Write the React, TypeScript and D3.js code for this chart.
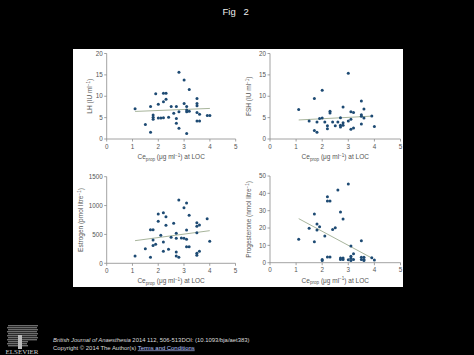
import React from "react";
import * as d3 from "d3";

const lhX = [1.1,1.5,1.7,1.7,1.8,1.8,1.8,1.9,2.0,2.0,2.1,2.2,2.2,2.3,2.2,2.3,2.4,2.5,2.6,2.7,2.7,2.7,2.8,2.8,2.8,3.0,3.0,3.1,3.1,3.1,3.2,3.1,3.2,3.5,3.5,3.5,3.5,3.6,3.5,3.6,3.9,4.0];
const lhY = [7.1,3.4,7.6,1.6,5.6,5.1,4.6,10.6,8.1,4.9,4.9,5.0,10.7,10.7,8.7,9.3,5.1,7.6,6.0,7.6,4.8,3.7,15.6,6.4,2.5,13.8,8.3,7.6,6.8,6.4,6.5,1.3,11.6,9.5,8.3,7.8,6.2,5.8,4.2,4.2,5.5,5.5];
const lhTrend = [[1.1, 6.45], [4.0, 7.15]];

const fshX = [1.1,1.5,1.7,1.7,1.8,1.8,1.9,2.0,2.0,2.1,2.2,2.2,2.3,2.3,2.4,2.5,2.6,2.7,2.7,2.7,2.8,2.8,2.8,3.0,3.0,3.1,3.1,3.2,3.1,3.2,3.5,3.5,3.5,3.6,3.6,3.5,3.9,4.0];
const fshY = [6.9,4.2,9.5,2.0,4.0,1.6,4.8,4.9,11.4,4.0,3.1,2.4,6.5,6.1,4.0,3.1,4.0,5.0,3.2,2.8,7.5,3.8,3.2,15.4,4.2,6.4,2.3,6.2,4.6,2.6,8.9,5.7,5.3,7.0,4.9,3.5,5.4,2.9];
const fshTrend = [[1.1, 4.45], [3.9, 5.35]];

const esX = [1.1,1.5,1.7,1.7,1.8,1.8,1.8,1.9,2.0,2.0,2.1,2.2,2.2,2.2,2.3,2.3,2.4,2.5,2.6,2.7,2.7,2.7,2.7,2.8,2.8,2.9,3.0,3.1,3.0,3.1,3.1,3.1,3.2,3.2,3.5,3.5,3.6,3.5,3.5,3.5,3.6,3.9,4.0];
const esY = [125,254,104,580,580,404,310,330,854,727,485,370,208,877,808,658,242,450,692,519,433,196,127,1096,104,438,964,1044,433,415,577,288,288,831,704,640,665,530,173,138,208,773,381];
const esTrend = [[1.1, 392], [4.0, 565]];

const prX = [1.1,1.5,1.7,1.7,1.8,1.8,1.9,2.0,2.0,2.1,2.2,2.2,2.3,2.2,2.3,2.4,2.5,2.6,2.7,2.8,2.7,2.8,2.7,2.8,3.0,3.0,3.1,3.1,3.1,3.2,3.1,3.2,3.5,3.5,3.6,3.5,3.6,3.6,3.9,4.0];
const prY = [13.5,19.8,28.1,12.1,22.3,18.8,20.8,1.9,1.2,15.4,38.1,35.6,35.6,3.3,3.3,19.2,20.2,41.9,29.2,25.2,2.7,2.7,1.9,1.9,45.4,1.7,9.6,2.5,1.2,5.2,3.7,1.9,12.7,3.1,3.1,1.9,1.9,1.2,2.9,1.5];
const prTrend = [[1.1, 25.4], [3.9, 2.7]];

const xTicks = [0, 1, 2, 3, 4, 5];
const ticks20 = [0, 5, 10, 15, 20];
const ticks1500 = [0, 500, 1000, 1500];
const ticks50 = [0, 10, 20, 30, 40, 50];

const FONT = "Liberation Sans, Arial, sans-serif";
const AXIS = "#8a8a8a";
const TXT = "#555";
const DOT = "#1d4a73";
const TREND = "#a8b59c";

type PanelProps = {
  x0: number; x1: number; yb: number; yt: number; ymax: number;
  yticks: number[]; xs: number[]; ys: number[]; trend: number[][];
  ylab: string; ysup: string; ylabX: number;
};

function Panel(p: PanelProps) {
  const x = d3.scaleLinear().domain([0, 5]).range([p.x0, p.x1]);
  const y = d3.scaleLinear().domain([0, p.ymax]).range([p.yb, p.yt]);
  const line = d3.line<number[]>().x(d => x(d[0])).y(d => y(d[1]));
  const cx = (p.x0 + p.x1) / 2;
  const cy = (p.yb + p.yt) / 2;
  return (
    <g fontFamily={FONT}>
      <line x1={p.x0} x2={p.x0} y1={p.yb} y2={p.yt} stroke={AXIS} strokeWidth={0.8} />
      <line x1={p.x0} x2={p.x1} y1={p.yb} y2={p.yb} stroke={AXIS} strokeWidth={0.8} />
      {p.yticks.map(t => (
        <g key={"y" + t}>
          <line x1={p.x0 - 2.5} x2={p.x0} y1={y(t)} y2={y(t)} stroke={AXIS} strokeWidth={0.8} />
          <text x={p.x0 - 4} y={y(t) + 2.2} fontSize={6.3} fill={TXT} textAnchor="end">{t}</text>
        </g>
      ))}
      {xTicks.map(t => (
        <g key={"x" + t}>
          <line x1={x(t)} x2={x(t)} y1={p.yb} y2={p.yb + 2.5} stroke={AXIS} strokeWidth={0.8} />
          <text x={x(t)} y={p.yb + 9.5} fontSize={6.3} fill={TXT} textAnchor="middle">{t}</text>
        </g>
      ))}
      <path d={line(p.trend) || ""} stroke={TREND} strokeWidth={1} fill="none" />
      {p.xs.map((v, i) => (
        <circle key={i} cx={x(v)} cy={y(p.ys[i])} r={1.5} fill={DOT} />
      ))}
      <text x={cx} y={p.yb + 20} fontSize={6.5} fill={TXT} textAnchor="middle">
        Ce<tspan fontSize={4.6} dy={1.5}>prop</tspan><tspan dy={-1.5}> (μg ml</tspan><tspan fontSize={4.6} dy={-2.5}>−1</tspan><tspan dy={2.5}>) at LOC</tspan>
      </text>
      <text transform={`translate(${p.ylabX},${cy}) rotate(-90)`} fontSize={6.5} fill={TXT} textAnchor="middle">
        {p.ylab}<tspan fontSize={4.6} dy={-2.5}>{p.ysup}</tspan><tspan dy={2.5}>)</tspan>
      </text>
    </g>
  );
}

function Logo() {
  const rows = d3.range(0, 22, 2);
  return (
    <g>
      {rows.map(r => (
        <rect key={r} x={7 + (r % 4 === 0 ? 1 : 0)} y={325 + r} width={30 - (r > 14 ? 10 : 0)} height={1.4} fill="#9a9a9a" opacity={0.7} />
      ))}
      <rect x={18} y={335} width={4} height={14} fill="#bbb" />
      <text x={22} y={354} fontSize={7} fill="#ccc" textAnchor="middle" fontFamily="Liberation Serif, serif">ELSEVIER</text>
    </g>
  );
}

export default function App() {
  return (
    <svg width={474} height={355} style={{ position: "absolute", left: 0, top: 0, background: "#000" }}>
      <rect x={0} y={0} width={474} height={355} fill="#000" />
      <text x={222.5} y={15} fontSize={9.5} fill="#eee" fontFamily={FONT}>Fig</text>
      <text x={243.5} y={15} fontSize={9.5} fill="#eee" fontFamily={FONT}>2</text>
      <rect x={73} y={49} width={330} height={238} fill="#fff" />
      <Panel x0={106.7} x1={235.7} yb={139} yt={53.5} ymax={20} yticks={ticks20} xs={lhX} ys={lhY} trend={lhTrend} ylab="LH (IU ml" ysup="−1" ylabX={92} />
      <Panel x0={270} x1={400.5} yb={139} yt={53.5} ymax={20} yticks={ticks20} xs={fshX} ys={fshY} trend={fshTrend} ylab="FSH (IU ml" ysup="−1" ylabX={251} />
      <Panel x0={106.7} x1={235.5} yb={263.3} yt={176.7} ymax={1500} yticks={ticks1500} xs={esX} ys={esY} trend={esTrend} ylab="Estrogen (pmol litre" ysup="−1" ylabX={83} />
      <Panel x0={270} x1={400.5} yb={262.7} yt={176} ymax={50} yticks={ticks50} xs={prX} ys={prY} trend={prTrend} ylab="Progesterone (nmol litre" ysup="−1" ylabX={251} />
      <Logo />
      <text x={53} y={341.5} fontSize={5.9} fill="#ddd" fontFamily={FONT}>
        <tspan fontStyle="italic">British Journal of Anaesthesia</tspan> 2014 112, 506-513DOI: (10.1093/bja/aet383)
      </text>
      <text x={53} y={349.5} fontSize={5.9} fill="#ddd" fontFamily={FONT}>
        Copyright © 2014 The Author(s) <tspan fill="#b8c4ff" textDecoration="underline">Terms and Conditions</tspan>
      </text>
    </svg>
  );
}
